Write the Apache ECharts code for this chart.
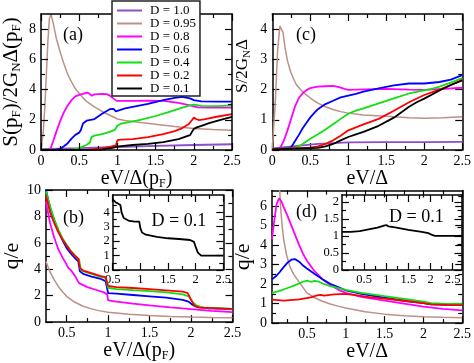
<!DOCTYPE html>
<html><head><meta charset="utf-8">
<script src="https://cdn.jsdelivr.net/npm/echarts@6/dist/echarts.min.js"></script>
<style>html,body{margin:0;padding:0;background:#fff}#c{width:474px;height:363px}</style>
</head><body><div id="c"></div>
<script>
const seriesNames = ['D = 1.0','D = 0.95','D = 0.8','D = 0.6','D = 0.4','D = 0.2','D = 0.1'];
const seriesColors = ['#8b4fc9','#bb9188','#ff00ff','#0000ff','#10e010','#ff0000','#000000'];

// Panel (a): S(pF)/2GNΔ(pF) vs eV/Δ(pF)
const A_10 = [[0,0.05],[0.5,0.12],[1,0.2],[1.5,0.27],[2,0.33],[2.5,0.38]];
const A_095 = [[0,0],[0.03,1.2],[0.05,2.8],[0.07,5.0],[0.09,7.2],[0.11,8.7],[0.13,9.0],[0.16,8.4],[0.2,7.4],[0.25,6.5],[0.3,5.7],[0.35,5.0],[0.4,4.5],[0.45,4.05],[0.5,3.75],[0.55,3.45],[0.6,3.2],[0.7,2.85],[0.8,2.55],[0.9,2.3],[1.0,2.05],[1.1,1.95],[1.25,1.85],[1.5,1.7],[1.75,1.55],[2.0,1.42],[2.25,1.35],[2.5,1.3]];
const A_08 = [[0,0],[0.1,0.02],[0.13,0.15],[0.16,0.6],[0.2,1.2],[0.25,1.9],[0.3,2.5],[0.35,2.95],[0.4,3.3],[0.45,3.55],[0.5,3.65],[0.55,3.72],[0.6,3.8],[0.63,3.75],[0.66,3.6],[0.7,3.68],[0.8,3.72],[0.86,3.7],[0.9,3.6],[0.95,3.4],[0.99,3.25],[1.0,3.22],[1.2,3.25],[1.4,3.27],[1.6,3.25],[1.8,3.12],[1.95,2.95],[2.05,2.82],[2.2,2.8],[2.5,2.8]];
const A_06 = [[0,0],[0.2,0.02],[0.25,0.08],[0.3,0.25],[0.35,0.45],[0.4,0.75],[0.45,1.0],[0.5,1.15],[0.52,1.3],[0.55,1.75],[0.6,1.95],[0.65,2.0],[0.67,1.95],[0.7,2.05],[0.8,2.4],[0.9,2.7],[0.95,2.72],[0.98,2.55],[1.0,2.6],[1.1,2.75],[1.2,2.85],[1.4,3.05],[1.6,3.3],[1.75,3.45],[1.85,3.52],[1.95,3.42],[2.0,3.3],[2.1,3.22],[2.3,3.2],[2.5,3.2]];
const A_04 = [[0,0],[0.4,0.02],[0.5,0.12],[0.6,0.35],[0.64,0.5],[0.66,0.85],[0.7,0.95],[0.8,1.05],[0.9,1.2],[0.97,1.35],[0.99,1.45],[1.0,1.6],[1.05,1.75],[1.15,1.85],[1.3,2.0],[1.5,2.25],[1.7,2.55],[1.85,2.8],[1.95,2.95],[2.0,3.0],[2.1,2.92],[2.3,2.9],[2.5,2.95]];
const A_02 = [[0,0],[0.6,0.02],[0.8,0.1],[0.9,0.2],[0.98,0.3],[1.0,0.65],[1.05,0.68],[1.2,0.72],[1.4,0.85],[1.6,1.05],[1.75,1.25],[1.85,1.45],[1.93,1.7],[1.98,2.0],[2.0,2.15],[2.03,2.05],[2.07,1.98],[2.15,2.05],[2.3,2.2],[2.5,2.38]];
const A_01 = [[0,0],[0.8,0.03],[0.95,0.15],[0.99,0.22],[1.0,0.3],[1.2,0.33],[1.4,0.4],[1.6,0.52],[1.8,0.72],[1.95,0.98],[2.0,1.4],[2.04,1.5],[2.1,1.6],[2.2,1.78],[2.35,2.0],[2.5,2.2]];

// Panel (c): S/2GNΔ vs eV/Δ
const C_10 = [[0,0.05],[0.2,0.1],[0.4,0.15],[0.6,0.2],[0.8,0.23],[1.0,0.25],[1.5,0.26],[2.0,0.26],[2.5,0.27]];
const C_095 = [[0,0.05],[0.04,1.6],[0.07,3.3],[0.1,4.1],[0.12,4.15],[0.14,3.9],[0.17,3.35],[0.2,2.95],[0.24,2.6],[0.28,2.35],[0.32,2.15],[0.37,2.0],[0.42,1.88],[0.5,1.72],[0.6,1.55],[0.7,1.43],[0.8,1.34],[0.9,1.27],[1.0,1.22],[1.2,1.16],[1.5,1.12],[1.8,1.07],[2.0,1.05],[2.25,1.07],[2.5,1.1]];
const C_08 = [[0,0.02],[0.1,0.05],[0.15,0.3],[0.2,0.65],[0.25,1.05],[0.3,1.45],[0.35,1.72],[0.4,1.88],[0.45,1.98],[0.5,2.05],[0.6,2.1],[0.7,2.11],[0.8,2.12],[0.88,2.08],[0.95,2.02],[1.0,1.99],[1.1,2.0],[1.5,2.02],[1.8,2.0],[2.0,1.99],[2.25,2.02],[2.5,2.06]];
const C_06 = [[0,0.03],[0.2,0.05],[0.25,0.1],[0.3,0.3],[0.35,0.5],[0.4,0.72],[0.45,0.9],[0.5,1.08],[0.55,1.22],[0.6,1.35],[0.7,1.52],[0.8,1.63],[0.9,1.74],[1.0,1.8],[1.1,1.86],[1.2,1.93],[1.4,2.04],[1.6,2.14],[1.8,2.2],[2.0,2.2],[2.2,2.25],[2.35,2.33],[2.5,2.48]];
const C_04 = [[0,0.03],[0.3,0.06],[0.4,0.2],[0.5,0.37],[0.6,0.52],[0.7,0.68],[0.8,0.85],[0.9,1.03],[1.0,1.2],[1.1,1.3],[1.2,1.38],[1.4,1.54],[1.6,1.71],[1.8,1.87],[2.0,1.97],[2.1,2.02],[2.2,2.1],[2.35,2.23],[2.5,2.38]];
const C_02 = [[0,0.02],[0.5,0.08],[0.6,0.12],[0.7,0.2],[0.8,0.32],[0.9,0.47],[1.0,0.65],[1.1,0.75],[1.2,0.85],[1.4,1.03],[1.6,1.3],[1.8,1.58],[2.0,1.82],[2.2,2.0],[2.35,2.15],[2.5,2.32]];
const C_01 = [[0,0.02],[0.6,0.07],[0.7,0.12],[0.8,0.2],[0.9,0.32],[1.0,0.43],[1.1,0.52],[1.2,0.6],[1.4,0.8],[1.6,1.07],[1.8,1.43],[1.9,1.58],[2.0,1.7],[2.2,1.97],[2.35,2.15],[2.5,2.3]];

// Panel (b): q/e vs eV/Δ(pF)
const B_095 = [[0.25,4.6],[0.3,3.8],[0.35,3.2],[0.4,2.7],[0.45,2.3],[0.5,1.95],[0.6,1.5],[0.7,1.2],[0.8,1.0],[0.9,0.85],[1.0,0.75],[1.25,0.6],[1.5,0.5],[1.75,0.43],[2.0,0.38],[2.25,0.34],[2.5,0.32]];
const B_08 = [[0.25,9.1],[0.3,7.5],[0.35,6.4],[0.4,5.5],[0.45,4.9],[0.5,4.35],[0.52,4.1],[0.55,3.95],[0.6,3.5],[0.65,2.95],[0.67,2.8],[0.75,2.65],[0.85,2.45],[0.95,2.25],[0.99,2.1],[1.0,1.65],[1.1,1.55],[1.3,1.4],[1.5,1.27],[1.75,1.12],[2.0,0.98],[2.25,0.85],[2.5,0.75]];
const B_06 = [[0.25,10],[0.3,8.7],[0.35,7.7],[0.4,6.9],[0.45,6.2],[0.5,5.6],[0.55,5.2],[0.6,4.85],[0.64,4.6],[0.66,3.85],[0.7,3.65],[0.8,3.45],[0.9,3.3],[0.97,3.1],[1.0,2.2],[1.1,2.15],[1.3,2.05],[1.5,1.95],[1.7,1.85],[1.9,1.68],[1.97,1.55],[2.02,1.3],[2.07,1.15],[2.2,1.05],[2.5,0.98]];
const B_04 = [[0.25,9.9],[0.3,8.75],[0.35,7.8],[0.4,7.0],[0.45,6.35],[0.5,5.85],[0.55,5.4],[0.6,5.05],[0.65,4.75],[0.67,4.0],[0.7,3.85],[0.8,3.65],[0.9,3.45],[0.97,3.35],[1.0,2.6],[1.1,2.5],[1.3,2.42],[1.5,2.35],[1.7,2.25],[1.9,2.1],[1.97,1.95],[2.02,1.5],[2.07,1.25],[2.15,1.1],[2.5,1.0]];
const B_02 = [[0.25,9.6],[0.3,8.3],[0.35,7.5],[0.4,6.8],[0.45,6.25],[0.5,5.8],[0.55,5.35],[0.6,5.0],[0.64,4.8],[0.66,4.1],[0.7,3.9],[0.8,3.7],[0.9,3.5],[0.97,3.4],[1.0,2.75],[1.1,2.65],[1.3,2.58],[1.5,2.5],[1.7,2.4],[1.9,2.3],[1.96,2.2],[2.0,1.7],[2.04,1.25],[2.1,1.1],[2.5,1.0]];
const BI_01 = [[0.5,4.9],[0.55,4.7],[0.6,4.6],[0.64,4.5],[0.66,4.0],[0.7,3.6],[0.8,3.4],[0.9,3.35],[0.98,3.35],[1.0,2.9],[1.03,2.6],[1.1,2.45],[1.3,2.3],[1.5,2.2],[1.7,2.15],[1.9,2.08],[1.97,1.95],[2.0,1.6],[2.04,1.2],[2.1,1.0],[2.5,1.0]];

// Panel (d): q/e vs eV/Δ
const D_08 = [[0.05,4.3],[0.08,5.3],[0.11,6.1],[0.14,6.4],[0.17,6.25],[0.2,5.95],[0.25,5.5],[0.3,5.0],[0.35,4.5],[0.4,4.0],[0.45,3.55],[0.5,3.2],[0.6,2.65],[0.7,2.25],[0.8,1.95],[0.9,1.72],[1.0,1.55],[1.2,1.35],[1.5,1.15],[1.75,1.0],[2.0,0.85],[2.25,0.73],[2.5,0.65]];
const D_095 = [[0.12,9],[0.14,7.5],[0.16,6.0],[0.18,5.0],[0.2,4.3],[0.24,3.45],[0.28,2.9],[0.33,2.5],[0.4,2.1],[0.5,1.55],[0.6,1.3],[0.7,1.12],[0.8,0.98],[0.9,0.87],[1.0,0.77],[1.25,0.58],[1.5,0.46],[1.75,0.38],[2.0,0.33],[2.25,0.3],[2.5,0.28]];
const D_06 = [[0.05,2.24],[0.1,2.4],[0.15,2.62],[0.2,2.87],[0.25,3.1],[0.3,3.25],[0.35,3.28],[0.4,3.15],[0.45,2.95],[0.5,2.8],[0.6,2.52],[0.7,2.25],[0.8,2.02],[0.9,1.85],[1.0,1.68],[1.2,1.5],[1.5,1.3],[1.8,1.12],[2.0,1.02],[2.1,0.96],[2.3,0.93],[2.5,0.92]];
const D_04 = [[0.05,1.55],[0.15,1.65],[0.25,1.8],[0.35,1.95],[0.45,2.12],[0.5,2.18],[0.55,2.12],[0.6,2.17],[0.65,2.13],[0.7,2.03],[0.8,1.9],[0.9,1.8],[1.0,1.7],[1.2,1.55],[1.5,1.38],[1.8,1.22],[2.0,1.1],[2.1,1.02],[2.3,0.99],[2.5,0.98]];
const D_02 = [[0.05,1.2],[0.2,1.15],[0.4,1.22],[0.55,1.32],[0.63,1.42],[0.68,1.45],[0.72,1.41],[0.85,1.47],[1.0,1.5],[1.1,1.45],[1.3,1.33],[1.5,1.25],[1.8,1.12],[2.0,1.02],[2.1,0.96],[2.3,0.93],[2.5,0.92]];
const DI_01 = [[0,1.12],[0.2,1.12],[0.4,1.14],[0.6,1.19],[0.8,1.24],[0.95,1.3],[1.0,1.32],[1.05,1.28],[1.2,1.25],[1.5,1.18],[1.8,1.12],[1.95,1.08],[2.05,1.02],[2.1,1.0],[2.5,1.0],[2.65,1.0]];

// tick values
const X_LAB_AC = [0,0.5,1,1.5,2,2.5];
const X_MIN_AC = [0.25,0.75,1.25,1.75,2.25];
const X_LAB_BD = [0.5,1,1.5,2,2.5];
const X_MIN_B = [0.75,1.25,1.75,2.25];
const X_MIN_D = [0.25,0.75,1.25,1.75,2.25];
const X_MIN_DI = [0.25,0.75,1.25,1.75,2.25];
const Y_LAB_A = [0,2,4,6,8];
const Y_MIN_A = [1,3,5,7];
const Y_LAB_C = [0,1,2,3,4];
const Y_MIN_C = [0.5,1.5,2.5,3.5];
const Y_LAB_B = [0,2,4,6,8,10];
const Y_MIN_B = [1,3,5,7,9];
const Y_LAB_D = [0,1,2,3,4,5,6];
const Y_MIN_D = [0.5,1.5,2.5,3.5,4.5,5.5,6.5];
const Y_LAB_BI = [0,1,2,3,4];
const Y_MIN_BI = [0.5,1.5,2.5,3.5,4.5];
const Y_LAB_DI = [0,0.5,1,1.5,2];
const Y_MIN_DI = [0.25,0.75,1.25,1.75];

const FONT = 'Liberation Serif';
const grids = [], xAxes = [], yAxes = [], series = [];

function richName(size) {
  return {fontFamily: FONT, fontSize: size, color: '#000',
    rich: {m: {fontFamily: FONT, fontSize: size, color: '#000', lineHeight: size + 2},
           s: {fontFamily: FONT, fontSize: Math.round(size * 0.62), color: '#000', verticalAlign: 'bottom', lineHeight: Math.round(size * 0.45)}}};
}

function axis(kind, gi, c, pos, ticks, len, labelOn, lineOn, fs) {
  const o = {type: 'value', gridIndex: gi, min: c.min, max: c.max, position: pos,
    axisLine: {show: lineOn, onZero: false, lineStyle: {color: '#000', width: 1.5}},
    axisTick: {show: true, inside: true, length: len, customValues: ticks, lineStyle: {color: '#000', width: 1.2}},
    axisLabel: {show: labelOn, customValues: c.labels, fontFamily: FONT, fontSize: fs, color: '#000', margin: c.margin},
    splitLine: {show: false}, minorTick: {show: false}, silent: true, z: 3};
  if (labelOn && c.name) {
    o.name = c.name; o.nameLocation = 'middle'; o.nameGap = c.nameGap;
    o.nameTextStyle = richName(c.nameSize);
    if (c.namePad) o.nameTextStyle.padding = c.namePad;
    if (kind === 'y') o.nameRotate = 90;
  }
  return o;
}

function panel(p) {
  const gi = grids.length;
  grids.push({left: p.g[0], top: p.g[1], width: p.g[2], height: p.g[3], show: true,
    borderWidth: 0, backgroundColor: p.bg || 'transparent', containLabel: false});
  const xi = xAxes.length, yi = yAxes.length;
  xAxes.push(axis('x', gi, p.x, 'bottom', p.x.labels, 7, true, true, p.fs));
  xAxes.push(axis('x', gi, p.x, 'bottom', p.x.minor, 4, false, false, p.fs));
  xAxes.push(axis('x', gi, p.x, 'top', p.x.labels, 7, false, true, p.fs));
  xAxes.push(axis('x', gi, p.x, 'top', p.x.minor, 4, false, false, p.fs));
  yAxes.push(axis('y', gi, p.y, 'left', p.y.labels, 7, true, true, p.fs));
  yAxes.push(axis('y', gi, p.y, 'left', p.y.minor, 4, false, false, p.fs));
  yAxes.push(axis('y', gi, p.y, 'right', p.y.labels, 7, false, true, p.fs));
  yAxes.push(axis('y', gi, p.y, 'right', p.y.minor, 4, false, false, p.fs));
  p.s.forEach(([idx, data]) => {
    series.push({type: 'line', name: seriesNames[idx], xAxisIndex: xi, yAxisIndex: yi, data: data,
      symbol: 'none', smooth: false, clip: true, silent: true, z: 2 + gi,
      lineStyle: {color: seriesColors[idx], width: idx === 1 ? 1.5 : 1.8},
      itemStyle: {color: seriesColors[idx]}});
  });
}

const nameA = '{m|eV/Δ(p}{s|F}{m|)}';
panel({g: [39.5, 14, 192.5, 136], fs: 14,
  x: {min: 0, max: 2.5, labels: X_LAB_AC, minor: X_MIN_AC, margin: 4, name: nameA, nameGap: 13, nameSize: 20},
  y: {min: 0, max: 9, labels: Y_LAB_A, minor: Y_MIN_A, margin: 5, name: '{m|S(p}{s|F}{m|)/2G}{s|N}{m|Δ(p}{s|F}{m|)}', nameGap: 18, nameSize: 21},
  s: [[0, A_10], [1, A_095], [2, A_08], [3, A_06], [4, A_04], [5, A_02], [6, A_01]]});
panel({g: [272.3, 14, 193.4, 136], fs: 14,
  x: {min: 0, max: 2.5, labels: X_LAB_AC, minor: X_MIN_AC, margin: 4, name: '{m|eV/Δ}', nameGap: 13, nameSize: 20},
  y: {min: 0, max: 4.5, labels: Y_LAB_C, minor: Y_MIN_C, margin: 5, name: '{m|S/2G}{s|N}{m|Δ}', nameGap: 20, nameSize: 17, namePad: [0, 0, 0, 32]},
  s: [[0, C_10], [1, C_095], [2, C_08], [3, C_06], [4, C_04], [5, C_02], [6, C_01]]});
panel({g: [39.5, 190, 193, 136.7], fs: 14,
  x: {min: 0.25, max: 2.5, labels: X_LAB_BD, minor: X_MIN_B, margin: 4, name: nameA, nameGap: 13, nameSize: 20},
  y: {min: 0, max: 10, labels: Y_LAB_B, minor: Y_MIN_B, margin: 5, name: '{m|q/e}', nameGap: 20, nameSize: 22},
  s: [[1, B_095], [2, B_08], [3, B_06], [4, B_04], [5, B_02]]});
panel({g: [272, 190.5, 193.5, 135.2], fs: 14,
  x: {min: 0.05, max: 2.5, labels: X_LAB_BD, minor: X_MIN_D, margin: 4, name: '{m|eV/Δ}', nameGap: 13, nameSize: 20},
  y: {min: 0, max: 6.8, labels: Y_LAB_D, minor: Y_MIN_D, margin: 5, name: '{m|q/e}', nameGap: 17, nameSize: 22},
  s: [[1, D_095], [2, D_08], [3, D_06], [4, D_04], [5, D_02]]});
panel({g: [112.7, 195, 110.6, 75], fs: 12.5, bg: '#fff',
  x: {min: 0.5, max: 2.5, labels: X_LAB_BD, minor: X_MIN_B, margin: 3},
  y: {min: 0, max: 5.2, labels: Y_LAB_BI, minor: Y_MIN_BI, margin: 3},
  s: [[6, BI_01]]});
panel({g: [342, 195, 119.5, 75], fs: 12.5, bg: '#fff',
  x: {min: 0, max: 2.7, labels: X_LAB_BD, minor: X_MIN_DI, margin: 3},
  y: {min: 0, max: 2.2, labels: Y_LAB_DI, minor: Y_MIN_DI, margin: 3},
  s: [[6, DI_01]]});

function label(text, left, top, size) {
  return {type: 'text', left: left, top: top, z: 10, silent: true,
    style: {text: text, font: size + 'px "' + FONT + '"', fill: '#000'}};
}

const chart = echarts.init(document.getElementById('c'), null, {renderer: 'canvas'});
chart.setOption({
  animation: false,
  backgroundColor: '#fff',
  grid: grids, xAxis: xAxes, yAxis: yAxes, series: series,
  legend: {orient: 'vertical', left: 112, top: 1, padding: [3, 4, 1, 5], itemWidth: 25, itemHeight: 2, itemGap: 0,
    icon: 'rect', backgroundColor: '#fff', borderColor: '#222', borderWidth: 1.5, borderRadius: 0, z: 20,
    textStyle: {fontFamily: FONT, fontSize: 13, color: '#000', lineHeight: 12.5, padding: [0, 0, 0, 3]},
    data: seriesNames, selectedMode: false},
  graphic: [label('(a)', 63, 26, 18), label('(c)', 296, 26, 18), label('(b)', 63, 209, 18), label('(d)', 296, 203, 18),
    label('D = 0.1', 151.5, 212, 18), label('D = 0.1', 389, 208, 18)]
});
</script></body></html>
